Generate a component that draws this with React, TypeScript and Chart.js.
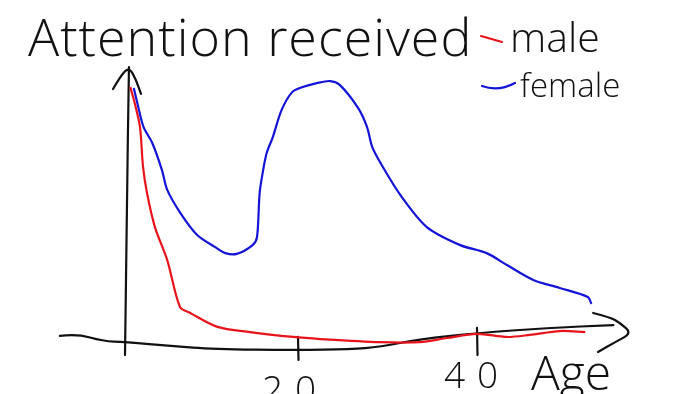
import React, { useEffect, useRef } from "react";
import { Chart, registerables } from "chart.js";

Chart.register(...registerables);

// ---- data (age in years, attention in arbitrary units 0..100) ----
const femaleAges = [1.0, 1.4, 2.1, 3.1, 4.2, 4.8, 6.3, 8.2, 10.2, 11.4, 12.7, 14.5, 15.0, 15.3, 15.7, 16.1, 16.8, 17.8, 19.0, 20.2, 21.8, 23.3, 24.4, 26.5, 27.5, 28.1, 29.3, 31.3, 34.3, 38.1, 41.1, 43.4, 46.4, 49.4, 52.6, 53.0];
const femaleValues = [96.9, 91.1, 81.8, 75.6, 65.1, 57.4, 48.4, 39.9, 35.3, 32.9, 32.6, 36.0, 39.1, 56.2, 65.1, 71.7, 77.9, 88.4, 95.3, 97.3, 98.8, 99.6, 98.1, 89.1, 81.8, 74.0, 66.3, 55.4, 43.0, 36.0, 32.9, 28.3, 22.5, 19.4, 15.9, 13.2];

const maleAges = [0.6, 1.1, 1.7, 2.05, 2.5, 3.4, 4.8, 6.25, 7.4, 10.5, 14.2, 19.1, 22.2, 29.0, 33.5, 36.6, 40.0, 43.4, 46.0, 49.4, 52.3];
const maleValues = [97.3, 91.1, 81.8, 66.3, 56.2, 43.0, 30.2, 12.0, 9.7, 4.3, 2.3, 0.4, -0.4, -1.6, -1.6, 0.0, 1.6, 0.4, 1.2, 2.7, 2.3];

// hand-drawn axis line (wobbly baseline)
const xAxisAges = [-7.4, -5.45, -2.5, 0, 5.45, 10.0, 19.5, 25.6, 29.0, 33.5, 40.0, 48.0, 55.5];
const xAxisValues = [0.8, 1.6, -1.2, -1.6, -3.1, -4.3, -4.7, -4.3, -3.5, -0.4, 1.9, 3.9, 5.0];
const xArrowAges = [53.2, 55.1, 56.25, 57.6, 55.7, 53.75];
const xArrowValues = [9.7, 8.1, 5.8, 1.9, -1.6, -5.4];
const yAxisAges = [0, 0.2, 0.45];
const yAxisValues = [-6.6, 50, 105];
const yArrowAges = [-1.36, -0.5, 0.45, 1.2, 1.82];
const yArrowValues = [96.5, 101.5, 105, 100.5, 94.6];

const tickValues = [20, 40];
const tickLabels = ["20", "40"];
const tickTops = [0.4, 3.9];
const tickBottoms = [-8.5, -6.6];

const titleText = "Attention received";
const seriesNames = ["male", "female"];
const axisLabel = "Age";

const FONT = "'Open Sans', 'DejaVu Sans', sans-serif";

function smoothPath(ctx: CanvasRenderingContext2D, pts: { x: number; y: number }[]) {
  ctx.beginPath();
  ctx.moveTo(pts[0].x, pts[0].y);
  if (pts.length === 2) {
    ctx.lineTo(pts[1].x, pts[1].y);
  } else {
    for (let i = 1; i < pts.length - 1; i++) {
      const mx = (pts[i].x + pts[i + 1].x) / 2;
      const my = (pts[i].y + pts[i + 1].y) / 2;
      ctx.quadraticCurveTo(pts[i].x, pts[i].y, mx, my);
    }
    const last = pts[pts.length - 1];
    ctx.lineTo(last.x, last.y);
  }
  ctx.stroke();
}

const handDrawn = {
  id: "handDrawn",
  beforeDatasetsDraw(chart: any) {
    const { ctx, scales } = chart;
    const xs = scales.x;
    const ys = scales.y;
    const toPts = (a: number[], v: number[]) =>
      a.map((age, i) => ({ x: xs.getPixelForValue(age), y: ys.getPixelForValue(v[i]) }));
    ctx.save();
    ctx.strokeStyle = "#111";
    ctx.lineWidth = 2.2;
    ctx.lineCap = "round";
    ctx.lineJoin = "round";
    smoothPath(ctx, toPts(xAxisAges, xAxisValues));
    smoothPath(ctx, toPts(xArrowAges, xArrowValues));
    smoothPath(ctx, toPts(yAxisAges, yAxisValues));
    smoothPath(ctx, toPts(yArrowAges, yArrowValues));
    tickValues.forEach((t, i) => {
      const px = xs.getPixelForValue(t) - (i === 0 ? 3 : 0);
      ctx.beginPath();
      ctx.moveTo(px, ys.getPixelForValue(tickTops[i]));
      ctx.lineTo(px + 0.5, ys.getPixelForValue(tickBottoms[i]));
      ctx.stroke();
    });
    ctx.restore();
  },
  afterDraw(chart: any) {
    const { ctx, scales } = chart;
    const xs = scales.x;
    ctx.save();
    ctx.fillStyle = "#111";
    ctx.textBaseline = "alphabetic";
    // title
    ctx.font = `300 52px ${FONT}`;
    ctx.textAlign = "left";
    (ctx as any).letterSpacing = "1px";
    ctx.fillText(titleText, 28, 56);
    (ctx as any).letterSpacing = "0px";
    // legend
    ctx.font = `300 41px ${FONT}`;
    ctx.fillText(seriesNames[0], 510, 52);
    ctx.font = `300 33px ${FONT}`;
    ctx.fillText(seriesNames[1], 520, 97);
    ctx.lineWidth = 2.2;
    ctx.lineCap = "round";
    ctx.strokeStyle = "#e8141c";
    ctx.beginPath();
    ctx.moveTo(481, 36);
    ctx.lineTo(502, 42);
    ctx.stroke();
    ctx.strokeStyle = "#1414d8";
    ctx.beginPath();
    ctx.moveTo(482, 86);
    ctx.quadraticCurveTo(498, 92, 515, 83);
    ctx.stroke();
    // tick labels
    ctx.font = `300 37px ${FONT}`;
    ctx.textAlign = "center";
    (ctx as any).letterSpacing = "12px";
    tickLabels.forEach((lab, i) => {
      const px = xs.getPixelForValue(tickValues[i]) + (i === 0 ? -6 : 0);
      ctx.fillText(lab, px, i === 0 ? 402 : 388);
    });
    (ctx as any).letterSpacing = "0px";
    ctx.font = `300 48px ${FONT}`;
    ctx.textAlign = "left";
    ctx.fillText(axisLabel, 531, 390);
    ctx.restore();
  },
};

export default function App() {
  const ref = useRef<HTMLCanvasElement | null>(null);
  useEffect(() => {
    if (!ref.current) return;
    const chart = new Chart(ref.current, {
      type: "line",
      data: {
        datasets: [
          {
            label: seriesNames[0],
            data: maleAges.map((a, i) => ({ x: a, y: maleValues[i] })),
            borderColor: "#e8141c",
            borderWidth: 2.2,
            pointRadius: 0,
            tension: 0.3,
            fill: false,
          },
          {
            label: seriesNames[1],
            data: femaleAges.map((a, i) => ({ x: a, y: femaleValues[i] })),
            borderColor: "#1414d8",
            borderWidth: 2.2,
            pointRadius: 0,
            tension: 0.3,
            fill: false,
          },
        ],
      },
      options: {
        responsive: false,
        animation: false,
        layout: { padding: 0 },
        plugins: {
          legend: { display: false },
          title: { display: false },
          tooltip: { enabled: false },
        },
        scales: {
          x: { type: "linear", display: false, min: -14.2045, max: 65.3409 },
          y: { type: "linear", display: false, min: -21.705, max: 131.008 },
        },
      },
      plugins: [handDrawn],
    });
    return () => chart.destroy();
  }, []);
  return (
    <div style={{ position: "fixed", left: 0, top: 0, width: 700, height: 394, background: "#fff" }}>
      <canvas ref={ref} width={700} height={394} style={{ width: 700, height: 394 }} />
    </div>
  );
}
